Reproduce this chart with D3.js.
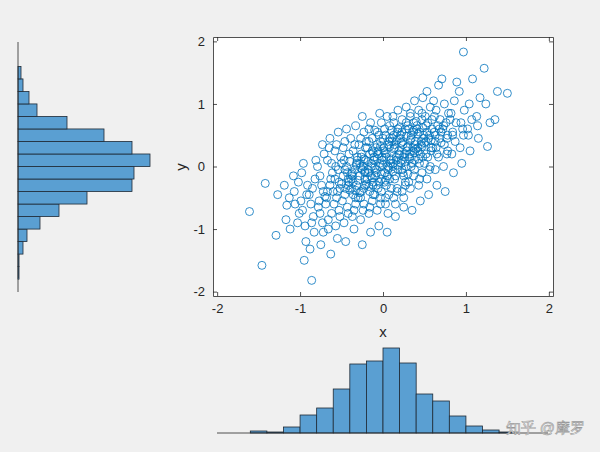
<!DOCTYPE html>
<html>
<head>
<meta charset="utf-8">
<script src="https://cdn.jsdelivr.net/npm/d3@7"></script>
<style>
  body { margin: 0; background: #f0f0f0; }
  text { font-family: "Liberation Sans", Arial, sans-serif; }
</style>
</head>
<body>
<script>
// scatter points [x, y]
const points = [
  [-1.61,-0.72],[-1.46,-1.58],[-1.42,-0.27],[-1.29,-1.1],[-1.27,-0.45],
  [-1.17,-0.85],[-1.13,-0.5],[-1.19,-0.3],[-1.12,-1.0],[-1.16,-0.62],
  [-1.03,-0.9],[-1.07,-0.4],[-1.02,-0.25],[-1.06,-0.6],[-1.01,-0.75],[-1.08,-0.15],
  [-0.95,-1.5],[-0.93,-1.2],[-0.97,-0.7],[-0.92,-0.45],[-0.98,-0.1],[-0.94,-0.95],[-0.91,-0.3],[-0.96,0.05],[-0.99,-0.55],
  [-0.86,-1.82],[-0.88,-1.32],[-0.83,-1.05],[-0.87,-0.6],[-0.82,-0.2],[-0.84,-0.8],[-0.89,-0.45],[-0.81,0.1],[-0.85,-0.35],[-0.86,-0.9],
  [-0.75,-1.25],[-0.73,-0.9],[-0.78,-0.65],[-0.72,-0.4],[-0.76,-0.15],[-0.71,0.2],[-0.77,-0.55],[-0.74,-0.3],[-0.79,0.0],[-0.72,-1.05],[-0.76,-0.75],[-0.73,0.35],
  [-0.63,-1.4],[-0.66,-1.0],[-0.62,-0.75],[-0.68,-0.5],[-0.64,-0.3],[-0.61,-0.1],[-0.67,0.1],[-0.65,0.3],[-0.69,-0.6],[-0.63,-0.2],[-0.66,-0.85],[-0.62,0.05],[-0.67,-0.4],[-0.64,0.45],
  [-0.55,-1.15],[-0.57,-0.95],[-0.53,-0.7],[-0.56,-0.5],[-0.52,-0.35],[-0.58,-0.2],[-0.54,-0.05],[-0.51,0.15],[-0.56,0.35],[-0.59,-0.6],[-0.53,-0.25],[-0.57,0.0],[-0.52,-0.8],[-0.55,-0.4],[-0.58,0.25],[-0.54,0.55],
  [-0.45,-1.2],[-0.47,-0.9],[-0.43,-0.65],[-0.46,-0.45],[-0.42,-0.3],[-0.48,-0.15],[-0.44,0.0],[-0.41,0.2],[-0.46,0.4],[-0.49,-0.55],[-0.43,-0.1],[-0.47,0.1],[-0.42,-0.75],[-0.45,-0.35],[-0.48,0.3],[-0.44,0.6],[-0.41,-0.25],[-0.46,-0.05],
  [-0.35,-1.0],[-0.37,-0.8],[-0.33,-0.6],[-0.36,-0.45],[-0.32,-0.3],[-0.38,-0.2],[-0.34,-0.05],[-0.31,0.1],[-0.36,0.25],[-0.39,0.45],[-0.33,-0.5],[-0.37,-0.15],[-0.32,0.05],[-0.35,-0.7],[-0.38,-0.35],[-0.34,0.35],[-0.31,0.15],[-0.36,-0.25],[-0.33,0.65],[-0.37,-0.1],
  [-0.25,-1.25],[-0.27,-0.85],[-0.23,-0.6],[-0.26,-0.4],[-0.22,-0.3],[-0.28,-0.15],[-0.24,0.0],[-0.21,0.1],[-0.26,0.2],[-0.29,0.35],[-0.23,0.55],[-0.27,-0.5],[-0.22,-0.2],[-0.25,-0.05],[-0.28,0.05],[-0.24,-0.7],[-0.21,0.3],[-0.26,0.15],[-0.23,-0.35],[-0.27,0.45],[-0.22,-0.1],[-0.25,0.8],
  [-0.15,-1.05],[-0.17,-0.75],[-0.13,-0.55],[-0.16,-0.4],[-0.12,-0.25],[-0.18,-0.1],[-0.14,0.0],[-0.11,0.1],[-0.16,0.2],[-0.19,0.3],[-0.13,0.45],[-0.17,0.6],[-0.12,-0.3],[-0.15,-0.15],[-0.18,-0.05],[-0.14,0.05],[-0.11,0.15],[-0.16,-0.65],[-0.13,0.25],[-0.17,0.4],[-0.12,-0.45],[-0.15,0.7],[-0.19,-0.2],
  [-0.05,-0.95],[-0.07,-0.7],[-0.03,-0.5],[-0.06,-0.35],[-0.02,-0.2],[-0.08,-0.1],[-0.04,0.0],[-0.01,0.1],[-0.06,0.2],[-0.09,0.3],[-0.03,0.4],[-0.07,0.55],[-0.02,0.7],[-0.05,-0.25],[-0.08,-0.05],[-0.04,0.05],[-0.01,0.15],[-0.06,0.25],[-0.03,-0.6],[-0.07,0.35],[-0.02,-0.4],[-0.05,0.5],[-0.09,-0.15],[-0.04,0.85],
  [0.05,-1.05],[0.03,-0.6],[0.07,-0.45],[0.04,-0.3],[0.08,-0.2],[0.02,-0.1],[0.06,0.0],[0.09,0.1],[0.04,0.2],[0.01,0.3],[0.07,0.4],[0.03,0.5],[0.08,0.65],[0.05,0.8],[0.02,-0.25],[0.06,-0.05],[0.09,0.05],[0.04,0.15],[0.01,0.25],[0.07,0.35],[0.03,-0.5],[0.08,0.45],[0.05,-0.15],[0.02,0.6],[0.06,-0.75],
  [0.15,-0.8],[0.13,-0.5],[0.17,-0.35],[0.14,-0.2],[0.18,-0.05],[0.12,0.05],[0.16,0.15],[0.19,0.25],[0.14,0.35],[0.11,0.45],[0.17,0.55],[0.13,0.7],[0.18,0.9],[0.15,-0.15],[0.12,0.0],[0.16,0.1],[0.19,0.2],[0.14,0.3],[0.11,0.4],[0.17,-0.4],[0.13,0.5],[0.18,0.6],[0.15,-0.6],[0.12,0.8],
  [0.25,-0.65],[0.23,-0.4],[0.27,-0.25],[0.24,-0.1],[0.28,0.0],[0.22,0.1],[0.26,0.2],[0.29,0.3],[0.24,0.4],[0.21,0.5],[0.27,0.6],[0.23,0.75],[0.28,0.95],[0.25,-0.15],[0.22,0.05],[0.26,0.15],[0.29,0.25],[0.24,0.35],[0.21,0.45],[0.27,-0.3],[0.23,0.55],[0.28,0.7],[0.25,-0.5],
  [0.35,-0.7],[0.33,-0.35],[0.37,-0.15],[0.34,0.0],[0.38,0.1],[0.32,0.2],[0.36,0.3],[0.39,0.4],[0.34,0.5],[0.31,0.6],[0.37,0.7],[0.33,0.85],[0.38,1.05],[0.35,0.05],[0.32,0.15],[0.36,0.25],[0.39,0.35],[0.34,0.45],[0.31,-0.25],[0.37,0.55],[0.33,0.8],[0.38,-0.05],
  [0.45,-0.55],[0.43,-0.3],[0.47,-0.1],[0.44,0.05],[0.48,0.15],[0.42,0.25],[0.46,0.35],[0.49,0.45],[0.44,0.55],[0.41,0.65],[0.47,0.75],[0.43,0.9],[0.48,1.1],[0.45,0.2],[0.42,0.3],[0.46,0.4],[0.49,0.5],[0.44,-0.2],[0.41,0.6],[0.47,0.85],
  [0.55,-0.45],[0.53,-0.2],[0.57,0.0],[0.54,0.15],[0.58,0.3],[0.52,0.4],[0.56,0.5],[0.59,0.6],[0.54,0.7],[0.51,0.8],[0.57,0.95],[0.53,1.2],[0.58,0.25],[0.55,0.45],[0.52,0.65],[0.56,-0.05],[0.59,0.75],
  [0.65,-0.3],[0.63,-0.05],[0.67,0.15],[0.64,0.3],[0.68,0.45],[0.62,0.55],[0.66,0.65],[0.69,0.75],[0.64,0.9],[0.61,1.05],[0.67,1.3],[0.63,0.4],[0.68,0.6],[0.65,0.2],[0.62,0.8],
  [0.75,-0.4],[0.73,0.0],[0.77,0.2],[0.74,0.35],[0.78,0.5],[0.72,0.6],[0.76,0.7],[0.79,0.85],[0.74,1.0],[0.71,1.4],[0.77,0.45],[0.73,0.65],[0.78,0.25],
  [0.85,-0.1],[0.83,0.2],[0.87,0.4],[0.84,0.55],[0.88,0.7],[0.82,0.85],[0.86,1.05],[0.89,1.35],[0.84,0.5],[0.81,0.75],
  [0.95,0.05],[0.93,0.3],[0.97,0.5],[0.94,0.7],[0.98,0.9],[0.92,1.2],[0.97,1.83],[0.96,0.6],
  [1.05,0.25],[1.03,0.5],[1.07,0.75],[1.04,1.0],[1.08,1.4],[1.02,0.6],
  [1.15,0.45],[1.13,0.8],[1.17,1.1],[1.14,0.65],
  [1.26,0.32],[1.29,0.7],[1.22,1.57],[1.24,1.0],
  [1.35,0.75],[1.38,1.2],[1.5,1.17],
  // dense core
  [-0.4,-0.38],[-0.3,-0.22],[-0.2,-0.28],[-0.1,-0.02],[0.0,0.02],[0.1,0.12],[0.2,0.18],[0.3,0.32],[0.4,0.28],[0.5,0.38],
  [-0.38,-0.12],[-0.28,-0.42],[-0.18,0.08],[-0.08,-0.3],[0.02,0.22],[0.12,-0.08],[0.22,0.38],[0.32,0.12],[0.42,0.52],[0.52,0.2],
  [-0.32,0.02],[-0.22,-0.08],[-0.12,0.22],[-0.02,-0.12],[0.08,0.32],[0.18,0.02],[0.28,0.48],[0.38,0.22],[0.48,0.62],[0.58,0.42],
  [-0.42,-0.2],[-0.33,-0.38],[-0.23,0.12],[-0.13,-0.18],[-0.03,0.32],[0.07,-0.02],[0.17,0.42],[0.27,0.08],[0.37,0.58],[0.47,0.32],
  [-0.27,-0.02],[-0.17,-0.32],[-0.07,0.12],[0.03,-0.22],[0.13,0.28],[0.23,-0.05],[0.33,0.42],[0.43,0.12],[0.53,0.55],[0.63,0.5],
  [-0.5,-0.28],[-0.4,0.08],[-0.3,-0.5],[-0.2,0.4],[-0.1,-0.45],[0.0,0.45],[0.1,-0.35],[0.2,0.62],[0.3,-0.12],[0.4,0.72],
  [-0.6,-0.4],[-0.5,0.05],[-0.1,0.58],[0.1,0.58],[0.3,0.65],[0.5,0.05],[0.6,0.3],[0.7,0.55],[-0.7,-0.48],[0.7,0.38]
];

// histogram of x (bin edges and counts)
const xEdges = [-1.6,-1.4,-1.2,-1.0,-0.8,-0.6,-0.4,-0.2,0,0.2,0.4,0.6,0.8,1.0,1.2,1.4,1.6];
const xCounts = [2,1,6,18,25,44,69,72,85,70,39,32,17,7,3,1];
// histogram of y
const yEdges = [-1.8,-1.6,-1.4,-1.2,-1.0,-0.8,-0.6,-0.4,-0.2,0,0.2,0.4,0.6,0.8,1.0,1.2,1.4,1.6];
const yCounts = [1,1,5,9,22,41,69,114,116,132,114,86,49,19,11,5,3];

const xTicks = [-2,-1,0,1,2];
const yTicks = [-2,-1,0,1,2];

const W = 600, H = 452;
const svg = d3.select("body").append("svg").attr("width", W).attr("height", H);

const x = d3.scaleLinear().domain([-2.05, 2.05]).range([213, 553]);
const y = d3.scaleLinear().domain([-2.07, 2.07]).range([296, 37]);

// scatter box
svg.append("rect").attr("x", 213).attr("y", 37).attr("width", 340).attr("height", 259)
  .attr("fill", "#fff");

const fmt = d => String(d);
const bottomAxis = svg.append("g").attr("transform", "translate(0,296)")
  .call(d3.axisBottom(x).tickValues(xTicks).tickSize(-4).tickSizeOuter(0).tickPadding(8).tickFormat(fmt));
const topAxis = svg.append("g").attr("transform", "translate(0,37)")
  .call(d3.axisTop(x).tickValues(xTicks).tickSize(-4).tickSizeOuter(0).tickFormat(""));
const leftAxis = svg.append("g").attr("transform", "translate(213,0)")
  .call(d3.axisLeft(y).tickValues(yTicks).tickSize(-4).tickSizeOuter(0).tickPadding(8).tickFormat(fmt));
const rightAxis = svg.append("g").attr("transform", "translate(553,0)")
  .call(d3.axisRight(y).tickValues(yTicks).tickSize(-4).tickSizeOuter(0).tickFormat(""));

[bottomAxis, topAxis, leftAxis, rightAxis].forEach(g => {
  g.selectAll("path,line").attr("stroke", "#262626").attr("stroke-width", 0.8);
  g.selectAll("text").attr("font-size", 13).attr("fill", "#262626");
});

svg.append("g").selectAll("circle").data(points).enter().append("circle")
  .attr("cx", d => x(d[0]))
  .attr("cy", d => y(d[1]))
  .attr("r", 4)
  .attr("fill", "none")
  .attr("stroke", "#0072BD")
  .attr("stroke-width", 0.8);

svg.append("text").attr("x", 383).attr("y", 337).attr("text-anchor", "middle")
  .attr("font-size", 15).attr("fill", "#262626").text("x");
svg.append("text").attr("transform", "translate(186,167) rotate(-90)").attr("text-anchor", "middle")
  .attr("font-size", 15).attr("fill", "#262626").text("y");

// bottom histogram
const hx = d3.scaleLinear().domain([0, 85]).range([433, 348]);
const binsX = xCounts.map((c, i) => ({ x0: xEdges[i], x1: xEdges[i + 1], c }));
svg.append("g").selectAll("rect").data(binsX).enter().append("rect")
  .attr("x", d => x(d.x0))
  .attr("width", d => x(d.x1) - x(d.x0))
  .attr("y", d => hx(d.c))
  .attr("height", d => 433 - hx(d.c))
  .attr("fill", "#5a9fd2").attr("stroke", "#1e2a36").attr("stroke-width", 0.8);
svg.append("line").attr("x1", 217).attr("x2", 548).attr("y1", 433).attr("y2", 433)
  .attr("stroke", "#262626").attr("stroke-width", 0.8);

// left histogram
const hy = d3.scaleLinear().domain([0, 132]).range([18, 150]);
const binsY = yCounts.map((c, i) => ({ y0: yEdges[i], y1: yEdges[i + 1], c }));
svg.append("g").selectAll("rect").data(binsY).enter().append("rect")
  .attr("x", 18)
  .attr("y", d => y(d.y1))
  .attr("height", d => y(d.y0) - y(d.y1))
  .attr("width", d => hy(d.c) - 18)
  .attr("fill", "#5a9fd2").attr("stroke", "#1e2a36").attr("stroke-width", 0.8);
svg.append("line").attr("x1", 18).attr("x2", 18).attr("y1", 42).attr("y2", 292)
  .attr("stroke", "#262626").attr("stroke-width", 0.8);

svg.append("text").attr("x", 585).attr("y", 433).attr("text-anchor", "end")
  .attr("font-family", "Noto Sans CJK SC").attr("font-size", 15)
  .attr("fill", "#fff").attr("stroke", "#999").attr("stroke-width", 0.6)
  .text("知乎 @摩罗");
</script>
</body>
</html>
